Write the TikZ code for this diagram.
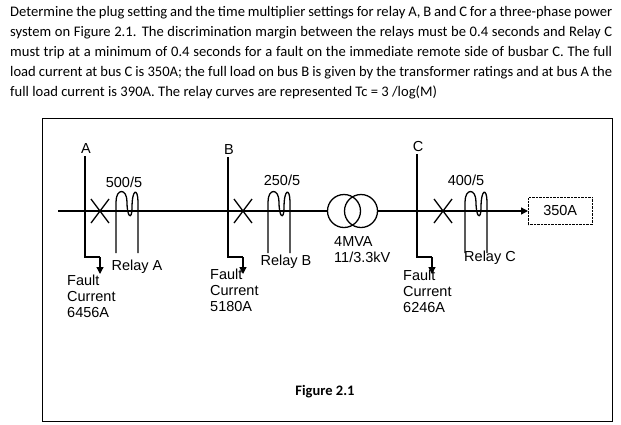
\documentclass[tikz,border=0pt]{standalone}
\usepackage{fontspec}
\setmainfont{Carlito}
\newfontfamily\arialf{Liberation Sans}
\usetikzlibrary{arrows.meta}
\begin{document}
\begin{tikzpicture}[x=1pt,y=-1pt,
  wire/.style={line width=1.3pt},
  lbl/.style={font=\arialf\fontsize{14.5}{16}\selectfont,inner sep=0pt},
  fl/.style={lbl,align=left,anchor=north west},
  arr/.style={wire,-{Triangle[length=7pt,width=7pt]}},
  pics/coil/.style={code={
    \draw[wire] (0,253)--(0,202) .. controls (0,188) and (11,188) .. (11,202)
      .. controls (11,218) and (16,220) .. (16,208) .. controls (16,188) and (22,188) .. (22,202) -- (22,253);}},
  pics/brk/.style={code={\draw[wire] (-9,199)--(9,223) (-9,223)--(9,199);}}]
\useasboundingbox (0,0) rectangle (621,424);
\node[anchor=north west,text width=602pt,align=justify,inner sep=0pt,font=\fontsize{14.6}{20}\selectfont] (txt) at (10,6)
{Determine the plug setting and the time multiplier settings for relay A, B and C for a three-phase power\linebreak system on Figure 2.1. The discrimination margin between the relays must be 0.4 seconds and Relay C\linebreak must trip at a minimum of 0.4 seconds for a fault on the immediate remote side of busbar C. The full\linebreak load current at bus C is 350A; the full load on bus B is given by the transformer ratings and at bus A the\linebreak full load current is 390A. The relay curves are represented Tc = 3 /log(M)\par};
\draw[line width=0.8pt] (42,118) rectangle (612,421);
\coordinate (m0) at (58,211);
\node[draw,densely dotted,minimum width=64pt,minimum height=27pt,inner sep=0pt,anchor=west,lbl] (load) at (528,211) {350A};
\draw[wire] (m0) -- (328,211);
\draw[arr] (377,211) -- (load.west);
\node[draw,wire,circle,minimum size=33pt,inner sep=0pt] (t1) at (344,211) {};
\node[draw,wire,circle,minimum size=33pt,inner sep=0pt] (t2) at (361,211) {};
\node[fl] (tl) at (334,236) {4MVA\\11/3.3kV};
\foreach \n/\bx/\top/\fx/\fy/\fv in {A/85/156/67/275/6456A, B/228/157/210/269/5180A, C/417/154/403/270/6246A}{
  \coordinate (top\n) at (\bx,\top);
  \coordinate (bot\n) at (\bx,257);
  \coordinate (cor\n) at (\bx+15,257);
  \coordinate (fe\n) at (\bx+15,274);
  \draw[wire] (top\n) -- (bot\n) -- (cor\n);
  \draw[arr] (cor\n) -- (fe\n);
  \node[lbl,anchor=south] (bl\n) at (\bx+1,\top-2) {\n};
  \node[fl] (fc\n) at (\fx,\fy) {Fault\\Current\\\fv};
}
\pic at (100,0) {brk}; \pic at (243,0) {brk}; \pic at (443,0) {brk};
\pic at (116,0) {coil}; \pic at (268,0) {coil}; \pic at (465,0) {coil};
\node[lbl] (ctA) at (124,182) {500/5};
\node[lbl] (ctB) at (282,180) {250/5};
\node[lbl] (ctC) at (466,180) {400/5};
\node[lbl] (rA) at (137,267) {Relay A};
\node[lbl] (rB) at (286,262) {Relay B};
\node[lbl] (rC) at (490,258) {Relay C};
\node[font=\bfseries\fontsize{14.5}{16}\selectfont,inner sep=0pt] (fig) at (325,392) {Figure 2.1};
\end{tikzpicture}
\end{document}
